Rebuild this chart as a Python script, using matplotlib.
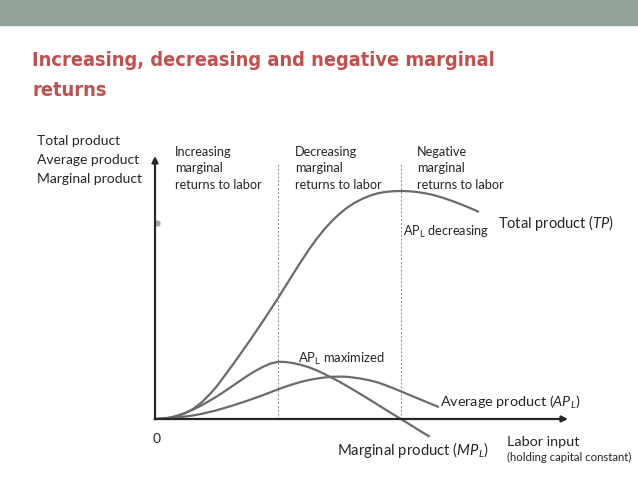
import matplotlib
matplotlib.use("Agg")
import matplotlib.pyplot as plt
from matplotlib import font_manager as fm

# -----------------------------
# Data
# -----------------------------
labor = [0, 0.25, 0.5, 0.75, 1, 1.25, 1.5, 1.75, 2, 2.25, 2.5, 2.75, 3, 3.25,
         3.5, 3.75, 4, 4.25, 4.5, 4.75, 5, 5.25, 5.5, 5.75, 6, 6.25, 6.5, 6.75,
         7, 7.25, 7.5, 7.75, 8, 8.25, 8.5, 8.75, 9, 9.25, 9.5, 9.75, 10, 10.25,
         10.5]
total_product = [0, 0.01, 0.05, 0.13, 0.26, 0.45, 0.71, 1.04, 1.42, 1.87, 2.33,
                 2.80, 3.28, 3.77, 4.27, 4.78, 5.30, 5.84, 6.38, 6.91, 7.42,
                 7.89, 8.31, 8.68, 9.00, 9.27, 9.49, 9.66, 9.80, 9.90, 9.96,
                 9.99, 10.0, 9.99, 9.96, 9.91, 9.84, 9.75, 9.64, 9.52, 9.39,
                 9.25, 9.10]

labor_mp = [0, 0.25, 0.5, 0.75, 1, 1.25, 1.5, 1.75, 2, 2.25, 2.5, 2.75, 3,
            3.25, 3.5, 3.75, 4, 4.25, 4.5, 4.75, 5, 5.25, 5.5, 5.75, 6, 6.25,
            6.5, 6.75, 7, 7.25, 7.5, 7.75, 8, 8.25, 8.5, 8.75, 8.9]
marginal_product = [0, 0.02, 0.07, 0.16, 0.28, 0.42, 0.59, 0.78, 0.98, 1.20,
                    1.43, 1.66, 1.89, 2.10, 2.28, 2.43, 2.51, 2.50, 2.45, 2.37,
                    2.27, 2.14, 1.98, 1.81, 1.63, 1.44, 1.24, 1.04, 0.83, 0.62,
                    0.41, 0.20, 0.0, -0.21, -0.42, -0.63, -0.75]

labor_ap = [0, 0.25, 0.5, 0.75, 1, 1.25, 1.5, 1.75, 2, 2.25, 2.5, 2.75, 3,
            3.25, 3.5, 3.75, 4, 4.25, 4.5, 4.75, 5, 5.25, 5.5, 5.75, 6, 6.25,
            6.5, 6.75, 7, 7.25, 7.5, 7.75, 8, 8.25, 8.5, 8.75, 9, 9.2]
average_product = [0, 0.01, 0.04, 0.07, 0.11, 0.16, 0.22, 0.30, 0.38, 0.48,
                   0.58, 0.69, 0.80, 0.92, 1.04, 1.17, 1.30, 1.42, 1.53, 1.63,
                   1.71, 1.77, 1.82, 1.85, 1.86, 1.85, 1.81, 1.76, 1.69, 1.60,
                   1.48, 1.35, 1.21, 1.07, 0.93, 0.79, 0.65, 0.54]

region_bounds = [4, 8]
region_labels = [
    ["Increasing", "marginal", "returns to labor"],
    ["Decreasing", "marginal", "returns to labor"],
    ["Negative", "marginal", "returns to labor"],
]
y_axis_labels = ["Total product", "Average product", "Marginal product"]

TITLE_1 = "Increasing, decreasing and negative marginal"
TITLE_2 = "returns"

# -----------------------------
# Style
# -----------------------------
W, H = 638, 479
X0, Y0 = 155, 419          # pixel position of the origin
SX, SY = 30.75, 22.8       # pixels per data unit

CURVE = "#6B6B6B"
AXIS = "#262626"
TEXT = "#262626"
TITLE_COLOR = "#C0504D"

plt.rcParams["font.family"] = ["Lato", "DejaVu Sans"]
plt.rcParams["mathtext.fontset"] = "custom"
plt.rcParams["mathtext.rm"] = "Lato"
plt.rcParams["mathtext.it"] = "Lato:italic"


def fx(px):
    return px / W


def fy(py):
    return 1 - py / H


def title_font():
    # prefer a narrow bold face (the slide uses Arial Narrow)
    narrow = [f for f in fm.fontManager.ttflist
              if ("Narrow" in f.name or "Condensed" in f.name
                  or f.stretch in ("condensed", "semi-condensed"))
              and f.weight in ("bold", 700, "demibold", 600)]
    if narrow:
        return fm.FontProperties(fname=narrow[0].fname)
    return fm.FontProperties(family="Liberation Sans", weight="bold")


fig = plt.figure(figsize=(W / 100, H / 100), dpi=100)
fig.patch.set_facecolor("white")

# top banner
fig.patches.append(plt.Rectangle((0, fy(25)), 1, 25 / H, transform=fig.transFigure,
                                 color="#92A399", zorder=0))

# title; the available faces are wider than Arial Narrow, so give it a
# little more width than on the slide to keep the letters tall
tp = title_font()
t1 = fig.text(fx(32), fy(66), TITLE_1, va="baseline", fontproperties=tp,
              color=TITLE_COLOR, fontsize=17)
fig.canvas.draw()
size = 17 * 462 / t1.get_window_extent().width
t1.set_fontsize(size)
fig.text(fx(32), fy(96), TITLE_2, va="baseline", fontproperties=tp,
         color=TITLE_COLOR, fontsize=size)

# -----------------------------
# Diagram
# -----------------------------
ax = fig.add_axes([0, 0, 1, 1])
ax.set_xlim(-X0 / SX, (W - X0) / SX)
ax.set_ylim((Y0 - H) / SY, Y0 / SY)
ax.axis("off")

# axes with arrows
ax.annotate("", xy=((568 - X0) / SX, 0), xytext=(0, 0),
            arrowprops=dict(arrowstyle="-|>", color=AXIS, lw=1.6,
                            mutation_scale=9, shrinkA=0, shrinkB=0))
ax.annotate("", xy=(0, (Y0 - 156) / SY), xytext=(0, 0),
            arrowprops=dict(arrowstyle="-|>", color=AXIS, lw=1.6,
                            mutation_scale=9, shrinkA=0, shrinkB=0))

# region boundaries
for b in region_bounds:
    ax.plot([b, b], [0, (Y0 - 163) / SY], color="#8A8A8A", lw=0.7,
            linestyle=(0, (2, 2)))

# curves
ax.plot(labor, total_product, color=CURVE, lw=1.6)
ax.plot(labor_mp, marginal_product, color=CURVE, lw=1.6)
ax.plot(labor_ap, average_product, color=CURVE, lw=1.6)

# small marker on the vertical axis
ax.plot(0.07, (Y0 - 223) / SY, "o", color="#A6A6A6", ms=3.5)

# -----------------------------
# Labels
# -----------------------------
for i, line in enumerate(y_axis_labels):
    fig.text(fx(37), fy(145 + 19 * i), line, fontsize=10, color=TEXT,
             va="baseline")

for x_px, lines in zip([175, 295, 417], region_labels):
    for i, line in enumerate(lines):
        fig.text(fx(x_px), fy(156 + 16.5 * i), line, fontsize=9.2, color=TEXT,
                 va="baseline")

fig.text(fx(498), fy(228), r"Total product ($TP$)", fontsize=10.5, color=TEXT,
         va="baseline")
fig.text(fx(403), fy(236), r"AP$_\mathrm{L}$ decreasing", fontsize=9.2,
         color=TEXT, va="baseline")
fig.text(fx(298), fy(363), r"AP$_\mathrm{L}$ maximized", fontsize=9.4,
         color=TEXT, va="baseline")
fig.text(fx(440), fy(407), r"Average product ($AP_L$)", fontsize=10.4,
         color=TEXT, va="baseline")
fig.text(fx(337), fy(455), r"Marginal product ($MP_L$)", fontsize=10.7,
         color=TEXT, va="baseline")
fig.text(fx(153), fy(443), "0", fontsize=10, color=TEXT, va="baseline")
fig.text(fx(507), fy(446), "Labor input", fontsize=10.4, color=TEXT,
         va="baseline")
fig.text(fx(507), fy(461), "(holding capital constant)", fontsize=8.2,
         color=TEXT, va="baseline")

fig.savefig("out.png", dpi=100)
